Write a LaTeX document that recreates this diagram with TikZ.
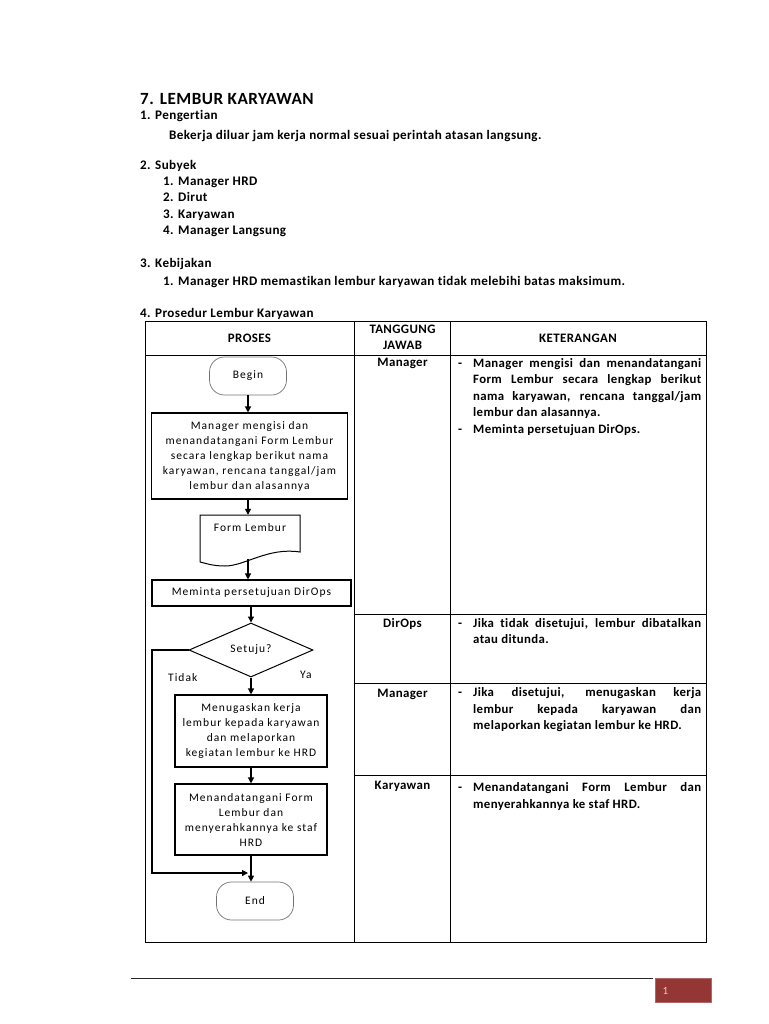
\documentclass[tikz,border=0pt]{standalone}
\usepackage{fontspec}
\setmainfont{Carlito}[Ligatures=NoCommon, LetterSpace=3]
\newfontfamily\flowfont{Carlito}[Ligatures=NoCommon, LetterSpace=9]
\usetikzlibrary{shapes.geometric,arrows.meta}
\definecolor{pagered}{HTML}{943634}
\definecolor{pagetext}{HTML}{F2C4C4}
\begin{document}
\begin{tikzpicture}[x=1pt,y=-1pt,
  body/.style={font=\fontsize{13.1}{16.5}\selectfont\bfseries, inner sep=0pt, anchor=base west},
  bodyc/.style={font=\fontsize{12.9}{16.5}\selectfont\bfseries, inner sep=0pt, anchor=base},
  para/.style={font=\fontsize{12.8}{16.5}\selectfont\bfseries, inner sep=0pt, anchor=north west, text width=228pt, align=justify},
  flowtxt/.style={font=\flowfont\fontsize{11.5}{15}\selectfont, align=center, inner sep=0pt},
  fbox/.style={flowtxt, draw, line width=1.1pt, rectangle},
  term/.style={flowtxt, draw=black!55, line width=0.7pt, rounded corners=15pt, minimum width=77pt, minimum height=38pt},
  tbl/.style={line width=1pt},
  arr/.style={-{Triangle[length=6pt,width=6pt]}, line width=1.2pt}
]
\useasboundingbox (0,0) rectangle (768,1024);

% ---------- heading text ----------
\node[body, font=\fontsize{17.1}{20}\selectfont\bfseries] (title) at (140,104.3) {7. LEMBUR KARYAWAN};
\node[body] (s1) at (140,119.3) {1. Pengertian};
\node[body] (s1t) at (169,139.3) {Bekerja diluar jam kerja normal sesuai perintah atasan langsung.};
\node[body] (s2) at (140,169.3) {2. Subyek};
\node[body] (s2a) at (163,185.5) {1. Manager HRD};
\node[body] (s2b) at (163,202) {2. Dirut};
\node[body] (s2c) at (163,218.5) {3. Karyawan};
\node[body] (s2d) at (163,235) {4. Manager Langsung};
\node[body] (s3) at (140,267.7) {3. Kebijakan};
\node[body] (s3a) at (163,285) {1. Manager HRD memastikan lembur karyawan tidak melebihi batas maksimum.};
\node[body] (s4) at (140,317.7) {4. Prosedur Lembur Karyawan};

% ---------- table ----------
\draw[tbl] (145,321.5) rectangle (706,942);
\draw[tbl] (354,321.5) -- (354,942);
\draw[tbl] (450.5,321.5) -- (450.5,942);
\draw[tbl] (145,355) -- (706,355);
\draw[tbl] (354,614.5) -- (706,614.5);
\draw[tbl] (354,683.5) -- (706,683.5);
\draw[tbl] (354,775) -- (706,775);

\node[bodyc] (hp) at (249.5,342.3) {PROSES};
\node[bodyc] (ht1) at (402.5,333.3) {TANGGUNG};
\node[bodyc] (ht2) at (402.5,349.7) {JAWAB};
\node[bodyc] (hk) at (578,342.3) {KETERANGAN};

\node[bodyc] (r1) at (402.5,366) {Manager};
\node[bodyc] (r2) at (402.5,627.5) {DirOps};
\node[bodyc] (r3) at (402.5,697) {Manager};
\node[bodyc] (r4) at (402.5,789.5) {Karyawan};

\node[body] (d1) at (458,367) {-};
\node[para] (k1) at (473,355.5) {\strut Manager mengisi dan menandatangani\linebreak Form Lembur secara lengkap berikut\linebreak nama karyawan, rencana tanggal/jam\linebreak lembur dan alasannya.};
\node[body] (d2) at (458,433.3) {-};
\node[para] (k2) at (473,421.8) {\strut Meminta persetujuan DirOps.};

\node[body] (d3) at (458,627) {-};
\node[para] (k3) at (473,615.5) {\strut Jika tidak disetujui, lembur dibatalkan\linebreak atau ditunda.};

\node[body] (d4) at (458,696.5) {-};
\node[para] (k4) at (473,685) {\strut Jika disetujui, menugaskan kerja\linebreak lembur kepada karyawan dan\linebreak melaporkan kegiatan lembur ke HRD.};

\node[body] (d5) at (458,791.5) {-};
\node[para] (k5) at (473,780) {\strut Menandatangani Form Lembur dan\linebreak menyerahkannya ke staf HRD.};

% ---------- flowchart ----------
\node[term] (begin) at (248,376) {Begin};
\node[fbox, minimum width=196pt, minimum height=86pt] (b1) at (249.5,456)
  {Manager mengisi dan\\menandatangani Form Lembur\\secara lengkap berikut nama\\karyawan, rencana tanggal/jam\\lembur dan alasannya};

\draw[line width=1pt] (200,562) -- (200,515) -- (300,515) -- (300,552)
  .. controls (268,547) and (245,566) .. (225,566)
  .. controls (212,566) and (205,563) .. (200,562);
\node[flowtxt, minimum width=100pt, minimum height=38pt] (form) at (250,534) {};
\node[flowtxt, anchor=base] (formt) at (250,531) {Form Lembur};
\coordinate (formbot) at (248,559);

\node[fbox, minimum width=199pt, minimum height=26pt] (mem) at (251.5,593) {Meminta persetujuan DirOps};
\node[flowtxt, draw, line width=1pt, diamond, aspect=2.3, minimum width=124pt, minimum height=54pt] (dia) at (251,650) {Setuju?};
\node[flowtxt, anchor=base west] (tidak) at (168,681.7) {Tidak};
\node[flowtxt, anchor=base west] (ya) at (300,678.3) {Ya};

\node[fbox, minimum width=152pt, minimum height=72pt] (m1) at (251,731)
  {Menugaskan kerja\\lembur kepada karyawan\\dan melaporkan\\kegiatan lembur ke HRD};
\node[fbox, minimum width=152pt, minimum height=71pt] (m2) at (251,819.5)
  {Menandatangani Form\\Lembur dan\\menyerahkannya ke staf\\HRD};
\node[term] (endn) at (255,901) {End};

\draw[arr] (begin.south) -- (begin.south |- b1.north);
\draw[arr] (b1.south -| begin) -- (form.north -| begin);
\draw[arr] (formbot) -- (formbot |- mem.north);
\draw[arr] (mem.south -| dia) -- (dia.north);
\draw[arr] (dia.south) -- (dia.south |- m1.north);
\draw[arr] (m1.south) -- (m2.north);
\draw[arr] (m2.south) -- (m2.south |- endn.north);
\coordinate (tl) at (152,650);
\coordinate (join) at (248,873);
\draw[arr] (dia.west) -- (tl) |- (join);

% ---------- footer ----------
\draw[line width=1.5pt, black!85] (131,978.5) -- (652.5,978.5);
\node[fill=pagered, draw=pagered!75!white, line width=0.6pt, minimum width=56pt, minimum height=24pt, inner sep=0pt, anchor=north west] (pg) at (654.5,978) {};
\node[font=\fontsize{11}{13}\selectfont, text=pagetext, inner sep=0pt, anchor=base west] (pgn) at (662.5,994) {1};
\end{tikzpicture}
\end{document}
